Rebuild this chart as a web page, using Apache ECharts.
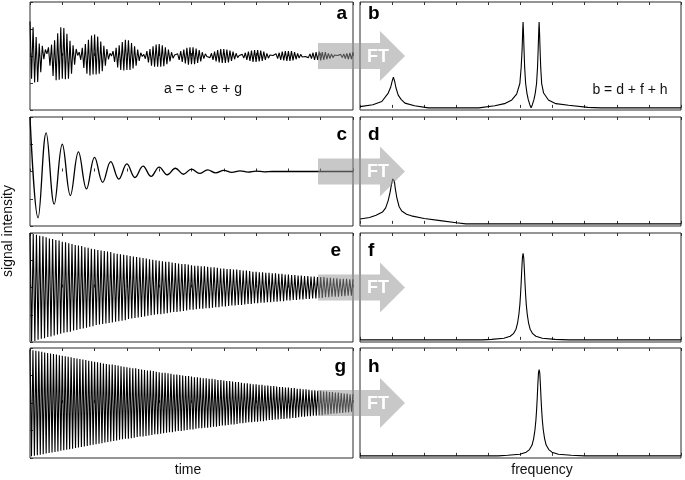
<!DOCTYPE html>
<html><head><meta charset="utf-8">
<script src="https://cdn.jsdelivr.net/npm/echarts@6/dist/echarts.min.js"></script>
<style>html,body{margin:0;padding:0;background:#fff}#chart{width:685px;height:480px}</style>
</head><body><div id="chart"></div>
<script>
// ---- time-domain signals: successive extrema (half-cycle peaks) ----
const halfPeriodA = 1 / 21;   // time units between extrema (axis 0..10)
const halfPeriodC = 0.25;
const halfPeriodE = 0.05;
const halfPeriodG = 1 / 22;

const fidA = [
 .64,-.42,.53,-.49,.35,-.48,.23,-.30,.19,-.06,.12,.04,.16,-.18,.21,-.37,.29,-.45,.42,-.44,.53,
 -.42,.52,-.43,.41,-.42,.28,-.33,.20,-.16,.13,.01,.07,-.07,.15,-.22,.22,-.33,.30,-.36,.38,-.34,
 .40,-.34,.36,-.33,.27,-.28,.19,-.18,.13,-.06,.05,.00,.09,-.11,.15,-.21,.20,-.26,.26,-.27,.30,
 -.26,.29,-.26,.24,-.23,.18,-.18,.12,-.09,.06,-.01,.03,-.05,.09,-.12,.13,-.18,.18,-.20,.21,-.20,
 .22,-.20,.20,-.19,.16,-.15,.12,-.10,.07,-.04,.02,-.01,.04,-.07,.09,-.11,.12,-.14,.15,-.16,.16,
 -.15,.16,-.15,.14,-.13,.11,-.10,.07,-.05,.04,-.01,.02,-.03,.05,-.07,.08,-.10,.11,-.12,.13,-.13,
 .13,-.13,.12,-.12,.10,-.09,.08,-.06,.05,-.03,.01,-.01,.03,-.04,.06,-.07,.08,-.09,.10,-.11,.11,
 -.11,.11,-.10,.10,-.09,.08,-.07,.05,-.04,.02,-.01,.01,-.02,.04,-.05,.06,-.07,.08,-.08,.09,-.09,
 .09,-.09,.09,-.08,.07,-.06,.05,-.04,.03,-.02,.01,-.01,.02,-.03,.04,-.05,.06,-.07,.07,-.07,.08,
 -.08,.07,-.07,.07,-.06,.05,-.05,.04,-.03,.02,-.01,.01,-.02,.03,-.03,.04,-.05,.05,-.06,.06,-.06,
 .07];

const fidC = [1.00,-0.85,0.71,-0.60,0.50,-0.44,0.36,-0.32,0.26,-0.20,0.18,-0.14,0.14,-0.11,0.10,-0.09,
 0.08,-0.06,0.06,-0.05,0.045,-0.035,0.03,-0.025,0.02,-0.016,0.012,-0.01,0.008,-0.006,
 0,0,0,0,0,0,0,0,0,0,0];

const fidE = [
 1.00,-.99,.98,-.98,.97,-.96,.95,-.94,.94,-.93,.92,-.91,.90,-.90,.89,-.88,.87,-.86,.86,-.85,
 .84,-.83,.83,-.82,.81,-.81,.80,-.79,.78,-.78,.77,-.76,.76,-.75,.74,-.74,.73,-.72,.71,-.71,
 .70,-.69,.69,-.68,.68,-.67,.67,-.66,.66,-.65,.65,-.64,.63,-.63,.62,-.62,.61,-.61,.60,-.60,
 .59,-.58,.58,-.57,.57,-.56,.56,-.55,.55,-.54,.54,-.53,.53,-.52,.52,-.51,.51,-.50,.50,-.49,
 .49,-.49,.48,-.48,.47,-.47,.47,-.46,.46,-.45,.45,-.45,.44,-.44,.43,-.43,.43,-.42,.42,-.41,
 .41,-.41,.40,-.40,.40,-.39,.39,-.39,.39,-.38,.38,-.38,.37,-.37,.37,-.36,.36,-.36,.35,-.35,
 .35,-.35,.34,-.34,.34,-.33,.33,-.33,.33,-.32,.32,-.32,.31,-.31,.31,-.30,.30,-.30,.29,-.29,
 .29,-.29,.28,-.28,.28,-.28,.27,-.27,.27,-.27,.26,-.26,.26,-.26,.25,-.25,.25,-.25,.24,-.24,
 .24,-.24,.23,-.23,.23,-.23,.22,-.22,.22,-.22,.21,-.21,.21,-.21,.20,-.20,.20,-.20,.19,-.19,
 .19,-.19,.19,-.18,.18,-.18,.18,-.17,.17,-.17,.17,-.17,.16,-.16,.16,-.16,.16,-.15,.15,-.15,
 .15];

const fidG = [
 .97,-.97,.96,-.96,.95,-.95,.94,-.94,.93,-.93,.92,-.92,.91,-.91,.90,-.90,.89,-.89,.88,-.88,.87,-.87,
 .86,-.86,.85,-.85,.84,-.84,.83,-.83,.82,-.82,.81,-.81,.80,-.80,.79,-.79,.78,-.78,.77,-.77,.76,-.76,
 .75,-.75,.74,-.74,.73,-.73,.72,-.72,.71,-.71,.70,-.70,.70,-.69,.69,-.68,.68,-.67,.67,-.66,.66,-.65,
 .65,-.65,.64,-.64,.63,-.63,.63,-.62,.62,-.61,.61,-.61,.60,-.60,.59,-.59,.59,-.58,.58,-.57,.57,-.57,
 .56,-.56,.55,-.55,.55,-.54,.54,-.53,.53,-.53,.52,-.52,.52,-.51,.51,-.51,.50,-.50,.49,-.49,.49,-.48,
 .48,-.48,.47,-.47,.47,-.46,.46,-.46,.45,-.45,.45,-.45,.44,-.44,.44,-.43,.43,-.43,.42,-.42,.42,-.41,
 .41,-.41,.40,-.40,.40,-.39,.39,-.39,.38,-.38,.38,-.37,.37,-.37,.36,-.36,.36,-.35,.35,-.35,.34,-.34,
 .34,-.34,.33,-.33,.33,-.33,.32,-.32,.32,-.31,.31,-.31,.31,-.30,.30,-.30,.29,-.29,.29,-.29,.28,-.28,
 .28,-.28,.27,-.27,.27,-.27,.26,-.26,.26,-.25,.25,-.25,.25,-.24,.24,-.24,.23,-.23,.23,-.23,.22,-.22,
 .22,-.22,.21,-.21,.21,-.21,.20,-.20,.20,-.19,.19,-.19,.19,-.18,.18,-.18,.17,-.17,.17,-.17,.16,-.16,
 .16];

// ---- spectra: [frequency, intensity] ----
const specB = [[0,.012],[0.4,.03],[0.68,.06],[0.88,.14],[0.96,.2],[1.0,.25],[1.04,.29],[1.08,.25],[1.12,.19],
 [1.19,.12],[1.28,.08],[1.4,.045],[1.7,.02],[2.13,0],[3.7,0],[4.2,.02],[4.5,.04],[4.73,.075],[4.88,.13],
 [4.98,.23],[5.02,.38],[5.05,.55],[5.07,.74],[5.08,.81],[5.09,.74],[5.11,.55],[5.13,.38],[5.16,.23],[5.2,.14],
 [5.24,.08],[5.29,.03],[5.33,0],[5.37,.03],[5.42,.08],[5.46,.14],[5.5,.23],[5.53,.38],[5.55,.55],[5.57,.74],
 [5.58,.81],[5.59,.74],[5.61,.55],[5.63,.38],[5.66,.23],[5.72,.14],[5.87,.075],[6.1,.04],[6.5,.025],[7.1,.005],
 [7.5,0],[10,0]];
const specD = [[0,.045],[0.3,.06],[0.5,.08],[0.7,.11],[0.8,.15],[0.88,.22],[0.94,.3],[0.98,.37],[1.02,.42],
 [1.04,.43],[1.07,.40],[1.1,.33],[1.15,.24],[1.22,.16],[1.3,.12],[1.45,.09],[1.6,.075],[2.0,.05],[2.5,.03],
 [3.0,.01],[3.3,0],[10,0]];
const specF = [[0,0],[3.8,0],[4.1,.005],[4.48,.015],[4.68,.034],[4.78,.058],[4.86,.10],[4.91,.16],[4.95,.24],
 [4.98,.33],[5.0,.42],[5.02,.53],[5.04,.66],[5.06,.77],[5.08,.81],[5.1,.77],[5.12,.66],[5.14,.53],[5.16,.42],
 [5.18,.33],[5.21,.24],[5.25,.16],[5.3,.10],[5.38,.058],[5.48,.034],[5.68,.015],[6.08,.005],[6.5,0],[10,0]];
const specH = [[0,0],[4.3,0],[4.6,.005],[4.98,.015],[5.18,.034],[5.28,.058],[5.36,.10],[5.41,.16],[5.45,.24],
 [5.48,.33],[5.5,.42],[5.52,.53],[5.54,.66],[5.56,.77],[5.58,.80],[5.6,.77],[5.62,.66],[5.64,.53],[5.66,.42],
 [5.68,.33],[5.71,.24],[5.75,.16],[5.8,.10],[5.88,.058],[5.98,.034],[6.18,.015],[6.58,.005],[7.0,0],[10,0]];

const panelLetters = ['a','b','c','d','e','f','g','h'];
const equationLeft = 'a = c + e + g';
const equationRight = 'b = d + f + h';
const xTitleLeft = 'time';
const xTitleRight = 'frequency';
const yTitle = 'signal intensity';
const arrowText = 'FT';

// ---- layout ----
const rowTops = [2, 117, 233, 348];
const rowHeights = [108, 109, 109, 110];
const LEFT_X = 30, LEFT_W = 323, RIGHT_X = 360, RIGHT_W = 321;
const FONT = '"Liberation Sans", Arial, Helvetica, sans-serif';
const INK = '#000';
const timeWidths = [1.1, 1.3, 1.1, 1.1];

const grids = [], xAxes = [], yAxes = [], series = [];
const timeSeries = [[fidA, halfPeriodA], [fidC, halfPeriodC], [fidE, halfPeriodE], [fidG, halfPeriodG]];
const freqSeries = [specB, specD, specF, specH];

function tick() { return { show: true, inside: true, length: 3, lineStyle: { color: '#333', width: 1 } }; }

for (let r = 0; r < 4; r++) {
  for (let side = 0; side < 2; side++) {
    const gi = grids.length;
    grids.push({ left: side ? RIGHT_X : LEFT_X, top: rowTops[r], width: side ? RIGHT_W : LEFT_W,
      height: rowHeights[r], show: true, borderColor: '#2a2a2a', borderWidth: 1, backgroundColor: 'transparent' });
    const xBase = { type: 'value', gridIndex: gi, min: 0, max: 10, interval: 1,
      axisLine: { show: false }, axisLabel: { show: false }, splitLine: { show: false }, axisTick: tick() };
    xAxes.push(Object.assign({}, xBase, { position: 'bottom' }));
    xAxes.push(Object.assign({}, xBase, { position: 'top' }));
    if (side === 0) {
      yAxes.push({ type: 'value', gridIndex: gi, min: -1, max: 1, interval: 0.5,
        axisLine: { show: false }, axisLabel: { show: false }, splitLine: { show: false }, axisTick: tick() });
      const [vals, hp] = timeSeries[r];
      series.push({ type: 'line', xAxisIndex: 2 * gi, yAxisIndex: gi, symbol: 'none',
        smooth: r === 1 ? 0.4 : false, animation: false,
        lineStyle: { color: INK, width: timeWidths[r] },
        data: vals.map((v, i) => [i * hp, v]) });
    } else {
      yAxes.push({ type: 'value', gridIndex: gi, min: -0.02, max: 1,
        axisLine: { show: false }, axisLabel: { show: false }, splitLine: { show: false }, axisTick: { show: false } });
      series.push({ type: 'line', xAxisIndex: 2 * gi, yAxisIndex: gi, symbol: 'none', animation: false,
        lineStyle: { color: INK, width: 1.1 }, data: freqSeries[r] });
    }
  }
}

// ---- annotations ----
const graphic = [];
const letterY = [14, 134.5, 251, 366.5];
const leftLetterX = [347, 347, 341, 346];
for (let r = 0; r < 4; r++) {
  graphic.push({ type: 'text', x: leftLetterX[r], y: letterY[r], z: 110,
    style: { text: panelLetters[2 * r], font: 'bold 19px ' + FONT, fill: '#000', align: 'right', verticalAlign: 'middle' } });
  graphic.push({ type: 'text', x: 368, y: letterY[r], z: 110,
    style: { text: panelLetters[2 * r + 1], font: 'bold 19px ' + FONT, fill: '#000', align: 'left', verticalAlign: 'middle' } });
  const cy = rowTops[r] + rowHeights[r] / 2;
  graphic.push({ type: 'polygon', z: 100,
    shape: { points: [[318, cy - 13], [380, cy - 13], [380, cy - 25], [405, cy], [380, cy + 25], [380, cy + 13], [318, cy + 13]] },
    style: { fill: 'rgba(150,150,150,0.52)' } });
  graphic.push({ type: 'text', x: 378, y: cy + 1, z: 101,
    style: { text: arrowText, font: 'bold 18px ' + FONT, fill: '#fff', align: 'center', verticalAlign: 'middle' } });
}
graphic.push({ type: 'text', x: 203, y: 89, z: 110,
  style: { text: equationLeft, font: '14px ' + FONT, fill: '#111', align: 'center', verticalAlign: 'middle' } });
graphic.push({ type: 'text', x: 630, y: 90, z: 110,
  style: { text: equationRight, font: '14px ' + FONT, fill: '#111', align: 'center', verticalAlign: 'middle' } });
graphic.push({ type: 'text', x: 188, y: 470, z: 110,
  style: { text: xTitleLeft, font: '14px ' + FONT, fill: '#111', align: 'center', verticalAlign: 'middle' } });
graphic.push({ type: 'text', x: 542, y: 470, z: 110,
  style: { text: xTitleRight, font: '14px ' + FONT, fill: '#111', align: 'center', verticalAlign: 'middle' } });
graphic.push({ type: 'text', x: 8, y: 231, rotation: Math.PI / 2, z: 110,
  style: { text: yTitle, font: '14px ' + FONT, fill: '#111', align: 'center', verticalAlign: 'middle' } });

const chart = echarts.init(document.getElementById('chart'), null, { renderer: 'canvas' });
chart.setOption({ animation: false, backgroundColor: '#fff', grid: grids, xAxis: xAxes, yAxis: yAxes, series: series, graphic: graphic });
</script></body></html>
